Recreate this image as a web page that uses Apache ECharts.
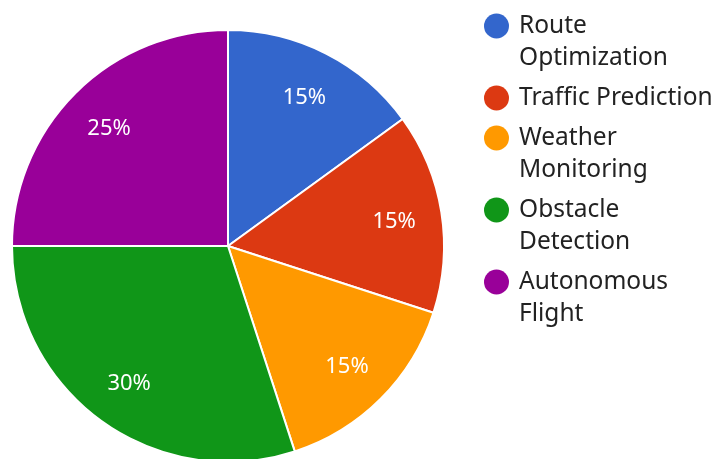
<!DOCTYPE html>
<html>
<head>
<meta charset="utf-8">
<script src="https://cdn.jsdelivr.net/npm/echarts@6/dist/echarts.min.js"></script>
<style>
  html, body { margin: 0; padding: 0; background: #fff; }
  #chart { width: 713px; height: 459px; }
</style>
</head>
<body>
<div id="chart"></div>
<script>
var categories = ['Route Optimization', 'Traffic Prediction', 'Weather Monitoring', 'Obstacle Detection', 'Autonomous Flight'];
var shares = [15, 15, 15, 30, 25];
var legendLines = [['Route', 'Optimization'], ['Traffic Prediction'], ['Weather', 'Monitoring'], ['Obstacle', 'Detection'], ['Autonomous', 'Flight']];
var colors = ['#3366cc', '#dc3912', '#ff9900', '#109618', '#990099'];

var FONT = 'Noto Sans';
var R = 216;
var LINE = 32;

var pieData = categories.map(function (n, i) {
    return { name: n, value: shares[i] };
});

// legend dot is drawn as a rich-text token so it lines up with the first line
var rich = { t: { fontFamily: FONT, fontSize: 24.5, color: '#222', lineHeight: LINE }, sp: { width: 35, height: 25, lineHeight: LINE } };
colors.forEach(function (c, i) {
    rich['dot' + i] = { width: 25, height: 25, borderRadius: 12.5, backgroundColor: c, lineHeight: LINE };
    rich['gap' + i] = { width: 10, lineHeight: LINE };
});

function legendText(name) {
    var i = categories.indexOf(name);
    var lines = legendLines[i];
    var s = '{dot' + i + '|}{gap' + i + '|}{t|' + lines[0] + '}';
    for (var k = 1; k < lines.length; k++) {
        s += '\n{sp|}{t|' + lines[k] + '}';
    }
    return s;
}

var option = {
    animation: false,
    color: colors,
    legend: {
        data: categories,
        orient: 'vertical',
        left: 478,
        top: 10,
        padding: 0,
        itemGap: 8,
        itemWidth: 0,
        itemHeight: 0,
        selectedMode: false,
        formatter: legendText,
        textStyle: { fontFamily: FONT, fontSize: 24.5, color: '#222', lineHeight: LINE, rich: rich }
    },
    series: [
        {
            type: 'pie',
            center: [228, 246],
            radius: [0, R],
            startAngle: 90,
            clockwise: true,
            silent: true,
            itemStyle: { borderColor: '#fff', borderWidth: 2 },
            label: { show: false },
            labelLine: { show: false },
            data: pieData
        },
        {
            // transparent ring only used to place labels at ~0.77 R
            type: 'pie',
            center: [228, 246],
            radius: [R * 0.53, R],
            startAngle: 90,
            clockwise: true,
            silent: true,
            itemStyle: { color: 'rgba(0,0,0,0)' },
            label: {
                show: true,
                position: 'inside',
                formatter: '{c}%',
                color: '#fff',
                fontFamily: FONT,
                fontSize: 22,
                offset: [0, 2]
            },
            labelLine: { show: false },
            data: pieData
        }
    ]
};

var myChart = echarts.init(document.getElementById('chart'));
myChart.setOption(option);
</script>
</body>
</html>
